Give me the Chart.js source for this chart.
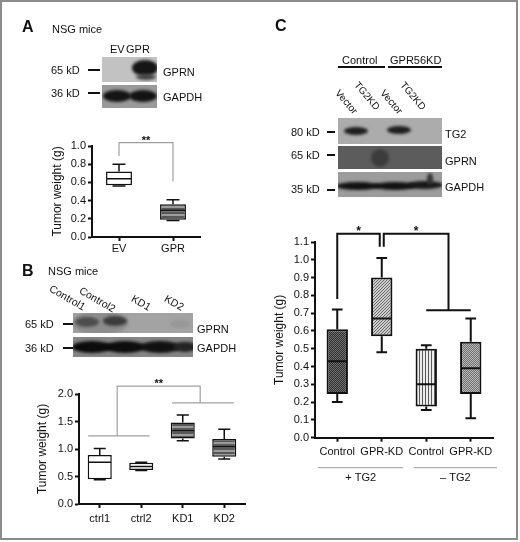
<!DOCTYPE html>
<html>
<head>
<meta charset="utf-8">
<script src="https://cdn.jsdelivr.net/npm/chart.js@4.4.1/dist/chart.umd.min.js"></script>
<style>
body{margin:0;background:#fff;font-family:"Liberation Sans",Arial,sans-serif;color:#111}
#fig{position:relative;width:520px;height:542px;overflow:hidden}
.frame{position:absolute;left:0;top:0;width:514px;height:536px;border:2px solid #8c8c8c}
.t{position:absolute;font-size:11px;line-height:1;white-space:nowrap}
.b{font-weight:bold;font-size:16px}
.r30{font-size:10.5px;transform:rotate(30deg);transform-origin:0 0}
.r50{font-size:10px;transform:rotate(50deg);transform-origin:0 0}
.d{position:absolute;background:#111;height:2px}
canvas{position:absolute}
</style>
</head>
<body>
<div id="fig">
<canvas id="blots" width="520" height="542" style="left:0;top:0"></canvas>
<div class="frame"></div>

<!-- A -->
<div class="t b" style="left:22px;top:19px">A</div>
<div class="t" style="left:52px;top:24px">NSG mice</div>
<div class="t" style="left:110px;top:44px">EV</div>
<div class="t" style="left:126px;top:44px">GPR</div>
<div class="t" style="left:51px;top:65px">65 kD</div>
<div class="t" style="left:51px;top:88px">36 kD</div>
<div class="d" style="left:88px;top:69px;width:12px"></div>
<div class="d" style="left:88px;top:92px;width:12px"></div>
<div class="t" style="left:163px;top:67px">GPRN</div>
<div class="t" style="left:163px;top:92px">GAPDH</div>

<!-- B -->
<div class="t b" style="left:22px;top:263px">B</div>
<div class="t" style="left:48px;top:266px">NSG mice</div>
<div class="t r30" style="left:53px;top:283px">Control1</div>
<div class="t r30" style="left:83px;top:285px">Control2</div>
<div class="t r30" style="left:135px;top:293px">KD1</div>
<div class="t r30" style="left:168px;top:293px">KD2</div>
<div class="t" style="left:25px;top:319px">65 kD</div>
<div class="t" style="left:25px;top:343px">36 kD</div>
<div class="d" style="left:63px;top:323px;width:10px"></div>
<div class="d" style="left:63px;top:347px;width:10px"></div>
<div class="t" style="left:197px;top:324px">GPRN</div>
<div class="t" style="left:197px;top:343px">GAPDH</div>

<!-- C -->
<div class="t b" style="left:275px;top:18px">C</div>
<div class="t" style="left:342px;top:55px">Control</div>
<div class="t" style="left:390px;top:55px">GPR56KD</div>
<div class="d" style="left:338px;top:66px;width:47px"></div>
<div class="d" style="left:388px;top:66px;width:54px"></div>
<div class="t r50" style="left:341px;top:88px">Vector</div>
<div class="t r50" style="left:360px;top:80px">TG2KD</div>
<div class="t r50" style="left:386px;top:88px">Vector</div>
<div class="t r50" style="left:406px;top:80px">TG2KD</div>
<div class="t" style="left:291px;top:127px">80 kD</div>
<div class="t" style="left:291px;top:150px">65 kD</div>
<div class="t" style="left:291px;top:184px">35 kD</div>
<div class="d" style="left:327px;top:131px;width:8px"></div>
<div class="d" style="left:327px;top:154px;width:8px"></div>
<div class="d" style="left:327px;top:189px;width:8px"></div>
<div class="t" style="left:445px;top:129px">TG2</div>
<div class="t" style="left:445px;top:156px">GPRN</div>
<div class="t" style="left:445px;top:182px">GAPDH</div>

<canvas id="chartA" width="205" height="132" style="left:0;top:128px"></canvas>
<canvas id="chartB" width="250" height="160" style="left:0;top:372px"></canvas>
<canvas id="chartC" width="258" height="275" style="left:260px;top:215px"></canvas>
</div>

<script>
// panel A - box plot values
const catsA = ['EV', 'GPR'];
const loA  = [0.56, 0.18];
const q1A  = [0.57, 0.19];
const medA = [0.64, 0.29];
const q3A  = [0.72, 0.36];
const hiA  = [0.80, 0.41];
const yTicksA = [0.0, 0.2, 0.4, 0.6, 0.8, 1.0];

// panel B
const catsB = ['ctrl1', 'ctrl2', 'KD1', 'KD2'];
const loB  = [0.44, 0.61, 1.15, 0.82];
const q1B  = [0.45, 0.62, 1.19, 0.86];
const medB = [0.76, 0.68, 1.33, 1.04];
const q3B  = [0.89, 0.75, 1.48, 1.18];
const hiB  = [1.01, 0.76, 1.62, 1.36];
const yTicksB = [0.0, 0.5, 1.0, 1.5, 2.0];

// panel C
const catsC = ['Control', 'GPR-KD', 'Control', 'GPR-KD'];
const groupsC = ['+ TG2', '\u2013 TG2'];
const loC  = [0.20, 0.48, 0.155, 0.11];
const q1C  = [0.245, 0.57, 0.175, 0.245];
const medC = [0.43, 0.67, 0.30, 0.39];
const q3C  = [0.61, 0.90, 0.50, 0.54];
const hiC  = [0.72, 1.01, 0.52, 0.67];
const yTicksC = [0.0, 0.1, 0.2, 0.3, 0.4, 0.5, 0.6, 0.7, 0.8, 0.9, 1.0, 1.1];

// significance brackets (category index, value)
const sigA = [[[0, 0.89], [0, 1.036], [1, 1.036], [1, 0.61]]];
const starsA = [[0.5, 1.036, '**']];
const sigB = [
  [[-0.28, 1.24], [1.2, 1.24]],
  [[0.42, 1.24], [0.42, 2.145], [2.42, 2.145], [2.42, 1.84]],
  [[1.74, 1.84], [3.23, 1.84]]
];
const starsB = [[1.42, 2.145, '**']];
const sigC = [
  [[0, 0.78], [0, 1.147], [0.955, 1.147], [0.955, 1.073]],
  [[1.045, 1.073], [1.045, 1.147], [2.5, 1.147], [2.5, 0.716]],
  [[2, 0.716], [3, 0.716]]
];
const starsC = [[0.48, 1.147, '*'], [1.77, 1.147, '*']];

Chart.defaults.font.family = '"Liberation Sans", Arial, sans-serif';
Chart.defaults.color = '#111';

// western blot pictures (just decoration)
function blot(ctx, x, y, w, h, bg, bands) {
  ctx.save();
  ctx.fillStyle = bg;
  ctx.fillRect(x, y, w, h);
  ctx.beginPath(); ctx.rect(x, y, w, h); ctx.clip();
  ctx.filter = 'blur(1.5px)';
  bands.forEach(b => {
    ctx.fillStyle = b[4];
    ctx.beginPath();
    ctx.ellipse(b[0], b[1], b[2], b[3], 0, 0, Math.PI * 2);
    ctx.fill();
  });
  ctx.restore();
}
const bc = document.getElementById('blots').getContext('2d');
blot(bc, 102, 57, 55, 25, '#c2c2c2', [[145, 68, 13, 8, '#161616'], [146, 77, 10, 3, '#444']]);
blot(bc, 102, 85, 55, 23, '#9a9a9a', [[117, 96, 14, 6, '#141414'], [143, 96, 14, 6, '#141414']]);
blot(bc, 73, 313, 120, 20, '#a3a3a3', [[100, 323, 28, 12, '#8c8c8c'], [87, 322, 12, 5, '#4d4d4d'], [115, 321, 12, 5, '#3c3c3c'], [180, 324, 10, 4, '#979797']]);
blot(bc, 73, 337, 120, 20, '#858585', [[92, 347, 20, 6, '#0c0c0c'], [125, 347, 20, 6, '#0c0c0c'], [160, 347, 20, 6, '#111'], [185, 347, 12, 5, '#222']]);
blot(bc, 338, 118, 104, 26, '#acacac', [[356, 131, 12, 4, '#1e1e1e'], [399, 130, 12, 4, '#1e1e1e']]);
blot(bc, 338, 146, 104, 23, '#5c5c5c', [[380, 158, 9, 9, '#3c3c3c']]);
blot(bc, 338, 172, 104, 25, '#9c9c9c', [[358, 186, 22, 4, '#111'], [395, 186, 22, 4, '#111'], [425, 185, 18, 4, '#181818'], [430, 179, 3, 6, '#333']]);

// fill patterns for the boxes
function pat(size, bg, draw) {
  const c = document.createElement('canvas');
  c.width = c.height = size;
  const g = c.getContext('2d');
  g.fillStyle = bg; g.fillRect(0, 0, size, size);
  draw(g);
  return g.createPattern(c, 'repeat');
}
const hStripe = pat(4, '#9c9c9c', g => { g.fillStyle = '#585858'; g.fillRect(0, 0, 4, 2); });
const darkCheck = pat(2, '#707070', g => { g.fillStyle = '#2e2e2e'; g.fillRect(0, 0, 1, 1); g.fillRect(1, 1, 1, 1); });
const diag = pat(3, '#cfcfcf', g => { g.fillStyle = '#646464'; g.fillRect(0, 2, 1, 1); g.fillRect(1, 1, 1, 1); g.fillRect(2, 0, 1, 1); });
const vStripe = pat(3, '#ececec', g => { g.fillStyle = '#5a5a5a'; g.fillRect(0, 0, 1, 3); });
const dots = pat(2, '#bdbdbd', g => { g.fillStyle = '#6c6c6c'; g.fillRect(0, 0, 1, 1); g.fillRect(1, 1, 1, 1); });

function boxPlugin(lo, q1, med, q3, hi, lw) {
  return {
    id: 'boxes',
    afterDatasetsDraw(chart) {
      const ctx = chart.ctx, y = chart.scales.y;
      ctx.save();
      ctx.strokeStyle = '#111';
      ctx.lineWidth = lw;
      chart.getDatasetMeta(0).data.forEach((bar, i) => {
        const cx = bar.x, hw = bar.width / 2, cap = bar.width * 0.25;
        const pLo = y.getPixelForValue(lo[i]), pHi = y.getPixelForValue(hi[i]);
        const pQ1 = y.getPixelForValue(q1[i]), pQ3 = y.getPixelForValue(q3[i]);
        const pMed = y.getPixelForValue(med[i]);
        ctx.beginPath();
        ctx.moveTo(cx, pQ3); ctx.lineTo(cx, pHi);
        ctx.moveTo(cx - cap, pHi); ctx.lineTo(cx + cap, pHi);
        ctx.moveTo(cx, pQ1); ctx.lineTo(cx, pLo);
        ctx.moveTo(cx - cap, pLo); ctx.lineTo(cx + cap, pLo);
        ctx.moveTo(cx - hw + lw / 2, pMed); ctx.lineTo(cx + hw - lw / 2, pMed);
        ctx.stroke();
      });
      ctx.restore();
    }
  };
}

function sigPlugin(lines, stars, color, lw, starFont, groups) {
  return {
    id: 'sig',
    afterDraw(chart) {
      const ctx = chart.ctx, x = chart.scales.x, y = chart.scales.y;
      ctx.save();
      ctx.strokeStyle = color;
      ctx.lineWidth = lw;
      ctx.lineJoin = 'miter';
      lines.forEach(pl => {
        ctx.beginPath();
        pl.forEach((p, k) => {
          const px = x.getPixelForValue(p[0]), py = y.getPixelForValue(p[1]);
          if (k === 0) ctx.moveTo(px, py); else ctx.lineTo(px, py);
        });
        ctx.stroke();
      });
      ctx.fillStyle = '#111';
      ctx.font = starFont;
      ctx.textAlign = 'center';
      ctx.textBaseline = 'alphabetic';
      stars.forEach(s => {
        ctx.fillText(s[2], x.getPixelForValue(s[0]), y.getPixelForValue(s[1]) + 1);
      });
      if (groups) {
        const gy = chart.chartArea.bottom + 30;
        ctx.strokeStyle = '#9a9a9a';
        ctx.lineWidth = 1;
        ctx.font = '11px "Liberation Sans", Arial, sans-serif';
        ctx.textBaseline = 'top';
        groups.forEach(g => {
          const a = x.getPixelForValue(g[0]), b = x.getPixelForValue(g[1]);
          ctx.beginPath(); ctx.moveTo(a, gy); ctx.lineTo(b, gy); ctx.stroke();
          ctx.fillText(g[2], (a + b) / 2, gy + 5);
        });
      }
      ctx.restore();
    }
  };
}

function boxChart(id, cats, lo, q1, med, q3, hi, fills, yTicks, o) {
  return new Chart(document.getElementById(id), {
    type: 'bar',
    data: {
      labels: cats,
      datasets: [{
        data: q1.map((v, i) => [v, q3[i]]),
        backgroundColor: fills,
        borderColor: '#111',
        borderWidth: o.lw,
        borderSkipped: false,
        barPercentage: o.barPct,
        categoryPercentage: 1
      }]
    },
    options: {
      responsive: false,
      animation: false,
      layout: { padding: { left: 0, top: o.top, right: o.right, bottom: 0 } },
      plugins: { legend: { display: false }, tooltip: { enabled: false } },
      scales: {
        x: {
          offset: true,
          grid: { offset: false, drawOnChartArea: false, drawTicks: true, tickLength: 4, tickWidth: 2, tickColor: '#111' },
          border: { display: true, color: '#111', width: 2 },
          ticks: { font: { size: 11 }, padding: o.xPad, color: '#111', maxRotation: 0, minRotation: 0, autoSkip: false },
          afterFit: s => { s.height = o.xH; }
        },
        y: {
          min: yTicks[0],
          max: yTicks[yTicks.length - 1],
          afterBuildTicks: s => { s.ticks = yTicks.map(v => ({ value: v })); },
          grid: { drawOnChartArea: false, drawTicks: true, tickLength: 4, tickWidth: 2, tickColor: '#111' },
          border: { display: true, color: '#111', width: 2 },
          ticks: { font: { size: 11 }, padding: 2, color: '#111', callback: v => Number(v).toFixed(1) },
          title: { display: true, text: 'Tumor weight (g)', font: { size: 12 }, color: '#111', padding: { top: o.titlePad, bottom: 0 } },
          afterFit: s => { s.width = o.yW; }
        }
      }
    },
    plugins: [boxPlugin(lo, q1, med, q3, hi, o.lw), sigPlugin(o.sig, o.stars, o.sigColor, o.sigLw, o.starFont, o.groups)]
  });
}

boxChart('chartA', catsA, loA, q1A, medA, q3A, hiA, ['#ffffff', hStripe], yTicksA, {
  lw: 1.5, barPct: 0.48, top: 18, right: 5, xH: 23, yW: 92, xPad: 1, titlePad: 50.8,
  sig: sigA, stars: starsA, sigColor: '#a0a0a0', sigLw: 1.2, starFont: 'bold 11px "Liberation Sans", Arial, sans-serif'
});

boxChart('chartB', catsB, loB, q1B, medB, q3B, hiB, ['#ffffff', '#ffffff', hStripe, hStripe], yTicksB, {
  lw: 1.5, barPct: 0.58, top: 22, right: 5, xH: 28, yW: 79, xPad: 4, titlePad: 35.8,
  sig: sigB, stars: starsB, sigColor: '#a0a0a0', sigLw: 1.2, starFont: 'bold 11px "Liberation Sans", Arial, sans-serif'
});

boxChart('chartC', catsC, loC, q1C, medC, q3C, hiC, [darkCheck, diag, vStripe, dots], yTicksC, {
  lw: 2, barPct: 0.48, top: 27, right: 25, xH: 52.3, yW: 55, xPad: 4, titlePad: 12.8,
  sig: sigC, stars: starsC, sigColor: '#111', sigLw: 2, starFont: 'bold 12px "Liberation Sans", Arial, sans-serif',
  groups: [[-0.43, 1.48, groupsC[0]], [1.72, 3.59, groupsC[1]]]
});
</script>
</body>
</html>
